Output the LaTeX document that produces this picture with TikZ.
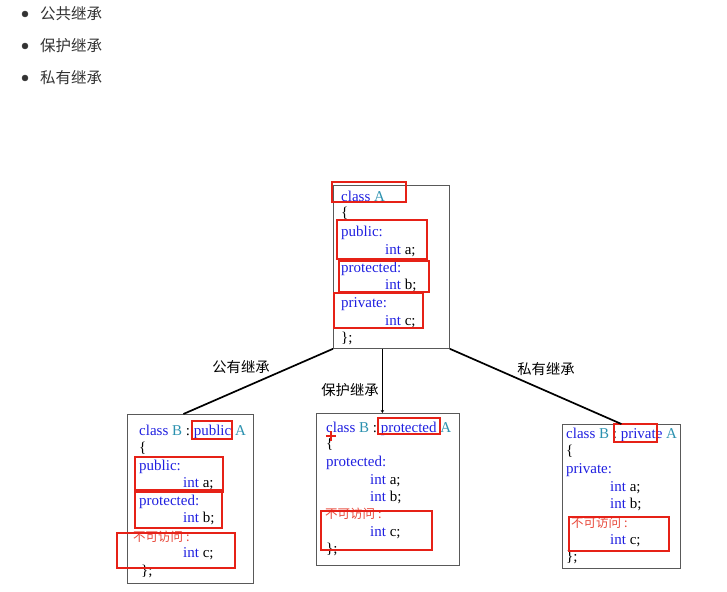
\documentclass[tikz,border=0pt]{standalone}
\usepackage{fontspec}
\setmainfont{Liberation Serif}
\newfontfamily\cjk{Noto Sans CJK SC}
\usepackage{tikz}
\usetikzlibrary{positioning}
\usetikzlibrary{arrows.meta}
\usepackage{xcolor}
\definecolor{kwblue}{HTML}{1F1FE0}
\definecolor{tyteal}{HTML}{2B91AF}
\definecolor{hlred}{HTML}{E62117}
\definecolor{nored}{HTML}{E8483A}
\definecolor{bodygray}{HTML}{333333}
\newcommand{\kw}[1]{\textcolor{kwblue}{#1}}
\newcommand{\ty}[1]{\textcolor{tyteal}{#1}}
\tikzset{
  classbox/.style={draw=black!65, line width=0.8pt, anchor=north west, inner sep=0pt},
  code/.style={anchor=base west, inner sep=0pt, font=\fontsize{15}{17}\selectfont},
  note/.style={anchor=base west, inner sep=0pt, text=nored, font=\cjk\fontsize{12.5}{15}\selectfont},
  hlbox/.style={draw=hlred, line width=2.6pt},
  link/.style={black, line width=1.7pt},
  tag/.style={inner sep=0pt, font=\cjk\fontsize{14.3}{16}\selectfont},
  item/.style={anchor=base west, inner sep=0pt, text=bodygray, font=\cjk\fontsize{15.5}{18}\selectfont}
}

\begin{document}
\begin{tikzpicture}[x=1pt, y=-1pt]
				\useasboundingbox (0,0) rectangle (727,591);
				% list above the picture
				\filldraw[bodygray] (25,14) circle (3);
				\filldraw[bodygray] (25,46) circle (3);
				\filldraw[bodygray] (25,78) circle (3);
				\node[item] (it1) at (40,20) {公共继承};
				\node[item] (it2) at (40,52) {保护继承};
				\node[item] (it3) at (40,84) {私有继承};

				% base class
				\node[classbox, minimum width=116, minimum height=163] (clsA) at (333,185) {};
				\node[code] (a1) at (341,201) {\kw{class} \ty{A}};
				\node[code] (a2) at (341,217) {\{};
				\node[code] (a3) at (341,236) {\kw{public:}};
				\node[code] (a4) at (385,254) {\kw{int} a;};
				\node[code] (a5) at (341,272) {\kw{protected:}};
				\node[code] (a6) at (385,289) {\kw{int} b;};
				\node[code] (a7) at (341,307) {\kw{private:}};
				\node[code] (a8) at (385,325) {\kw{int} c;};
				\node[code] (a9) at (341,342) {\};};
				\draw[hlbox] (332,182) rectangle (406,202);
				\draw[hlbox] (337,220) rectangle (427,259);
				\draw[hlbox] (339,261) rectangle (429,292);
				\draw[hlbox] (334,293) rectangle (423,328);

				% public
				\node[classbox, minimum width=126, minimum height=169] (pubB) at (127,414) {};
				\node[code] (p1) at (139,435) {\kw{class} \ty{B} : \kw{public} \ty{A}};
				\node[code] (p2) at (139,452) {\{};
				\node[code] (p3) at (139,470) {\kw{public:}};
				\node[code] (p4) at (183,487) {\kw{int} a;};
				\node[code] (p5) at (139,505) {\kw{protected:}};
				\node[code] (p6) at (183,522) {\kw{int} b;};
				\node[note] (p7) at (133,541) {不可访问 :};
				\node[code] (p8) at (183,557) {\kw{int} c;};
				\node[code] (p9) at (141,575) {\};};
				\draw[hlbox] (192,421) rectangle (232,439);
				\draw[hlbox] (135,457) rectangle (223,492);
				\draw[hlbox] (135,490) rectangle (222,528);
				\draw[hlbox] (117,533) rectangle (235,568);

				% protected
				\node[classbox, minimum width=143, minimum height=152] (proB) at (316,413) {};
				\node[code] (q1) at (326,432) {\kw{class} \ty{B} : \kw{protected} \ty{A}};
				\node[code] (q2) at (326,448) {\{};
				\node[code] (q3) at (326,466) {\kw{protected:}};
				\node[code] (q4) at (370,484) {\kw{int} a;};
				\node[code] (q5) at (370,501) {\kw{int} b;};
				\node[note] (q6) at (325,518) {不可访问 :};
				\node[code] (q7) at (370,536) {\kw{int} c;};
				\node[code] (q8) at (326,553) {\};};
				\draw[hlbox] (378,418) rectangle (440,434);
				\draw[hlbox] (321,511) rectangle (432,550);
				\draw[hlred, line width=1.5pt] (326,436) -- (336,436) (331,431) -- (331,441);

				% private
				\node[classbox, minimum width=118, minimum height=144] (prvB) at (562,424) {};
				\node[code] (r1) at (566,438) {\kw{class} \ty{B} : \kw{private} \ty{A}};
				\node[code] (r2) at (566,455) {\{};
				\node[code] (r3) at (566,473) {\kw{private:}};
				\node[code] (r4) at (610,491) {\kw{int} a;};
				\node[code] (r5) at (610,508) {\kw{int} b;};
				\node[note] (r6) at (571,527) {不可访问 :};
				\node[code] (r7) at (610,544) {\kw{int} c;};
				\node[code] (r8) at (566,561) {\};};
				\draw[hlbox] (614,424) rectangle (657,442);
				\draw[hlbox] (569,517) rectangle (669,551);

				% inheritance lines
				\draw[link] (clsA.south west) -- ([xshift=-7pt]pubB.north);
				\draw[link, -{Stealth[length=3pt, width=3.5pt]}] ([xshift=-9pt]clsA.south) -- ([xshift=-9pt]clsA.south |- proB.north);
				\draw[link] (clsA.south east) -- (prvB.north);
				\node[tag] (t1) at (241,367) {公有继承};
				\node[tag] (t2) at (350,390) {保护继承};
				\node[tag] (t3) at (546,369) {私有继承};
\end{tikzpicture}
\end{document}
